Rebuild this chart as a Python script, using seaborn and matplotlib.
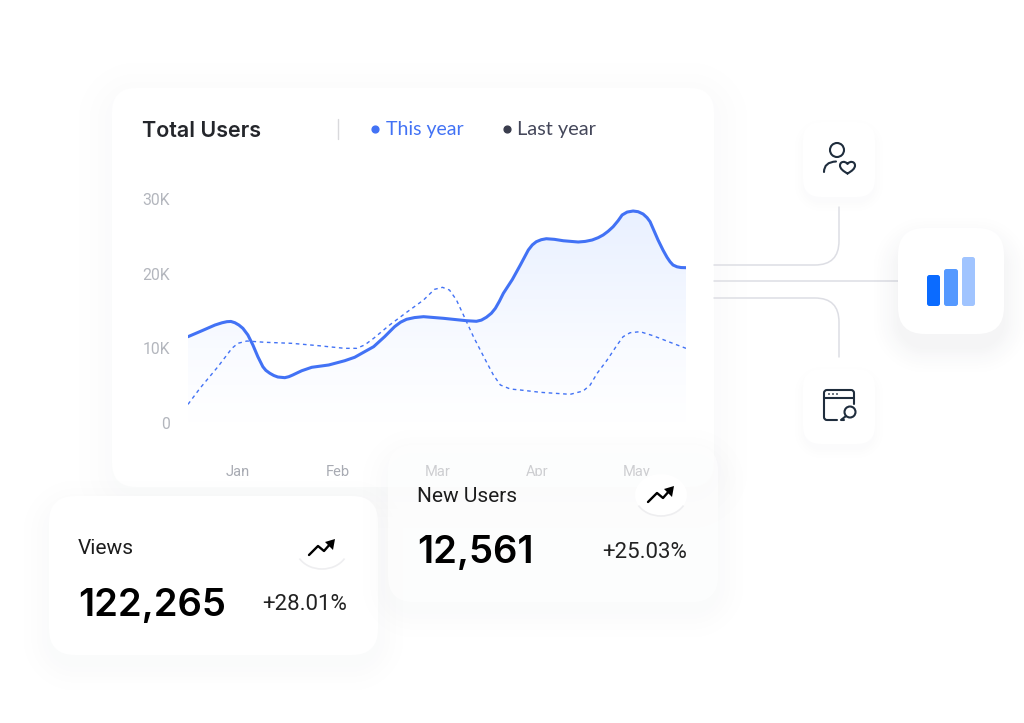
import numpy as np
import pandas as pd
import matplotlib
matplotlib.use("Agg")
import matplotlib.pyplot as plt
import seaborn as sns
from matplotlib.colors import LinearSegmentedColormap
from matplotlib.patches import Arc, FancyBboxPatch, Circle, Ellipse, PathPatch, Polygon
from matplotlib.path import Path
from matplotlib.transforms import Bbox

# values, x in months (Jan = 1), y in thousands of users
this_x = [0.50, 0.64, 0.77, 0.84, 0.89, 0.93, 0.97, 1.01, 1.05, 1.10, 1.15, 1.20, 1.25, 1.28, 1.32, 1.36, 1.40, 1.47,
          1.51, 1.55, 1.60, 1.64, 1.74, 1.91, 2.07, 2.17, 2.27, 2.36, 2.47, 2.57, 2.63, 2.69, 2.77, 2.86, 3.06, 3.29,
          3.39, 3.44, 3.49, 3.54, 3.58, 3.62, 3.66, 3.75, 3.83, 3.91, 3.95, 3.99, 4.04, 4.09, 4.17, 4.26, 4.41, 4.48,
          4.55, 4.61, 4.66, 4.71, 4.76, 4.81, 4.85, 4.90, 4.96, 5.01, 5.06, 5.10, 5.13, 5.21, 5.26, 5.30, 5.33, 5.36,
          5.40, 5.44, 5.49]
this_y = [11.56, 12.36, 13.12, 13.42, 13.57, 13.60, 13.43, 13.12, 12.68, 11.79, 10.45, 8.88, 7.54, 7.05, 6.66, 6.36, 6.16, 6.07,
          6.20, 6.43, 6.75, 7.00, 7.46, 7.77, 8.34, 8.80, 9.55, 10.22, 11.56, 12.90, 13.50, 13.89, 14.12, 14.24, 14.02, 13.70,
          13.62, 13.78, 14.16, 14.70, 15.36, 16.30, 17.37, 19.22, 21.16, 23.17, 23.85, 24.28, 24.55, 24.68, 24.60, 24.41, 24.24, 24.32,
          24.51, 24.82, 25.18, 25.68, 26.29, 27.10, 27.86, 28.25, 28.39, 28.30, 27.99, 27.50, 26.96, 24.51, 23.15, 22.19, 21.60, 21.16,
          20.92, 20.82, 20.80]
last_x = [0.50, 0.62, 0.80, 0.94, 1.00, 1.09, 1.27, 1.54, 1.81, 2.07, 2.19, 2.27, 2.36, 2.52, 2.69, 2.86, 2.97, 3.05,
          3.12, 3.19, 3.26, 3.36, 3.48, 3.56, 3.63, 3.73, 3.83, 4.03, 4.33, 4.46, 4.53, 4.60, 4.70, 4.80, 4.86, 4.93,
          5.03, 5.16, 5.33, 5.49]
last_y = [2.50, 4.65, 7.54, 10.00, 10.67, 10.98, 10.81, 10.67, 10.35, 10.00, 10.00, 10.45, 11.34, 13.12, 14.82, 16.47, 17.90, 18.17,
          17.81, 16.47, 14.46, 11.56, 8.44, 6.43, 5.09, 4.55, 4.42, 4.11, 3.84, 4.29, 5.09, 6.66, 8.44, 10.45, 11.56, 12.09,
          12.23, 11.69, 10.81, 10.00]

months = ["Jan", "Feb", "Mar", "Apr", "May"]
y_ticks = [0, 10, 20, 30]
y_labels = ["0", "10K", "20K", "30K"]

this_year = pd.DataFrame({"month": this_x, "users": this_y})
last_year = pd.DataFrame({"month": last_x, "users": last_y})

BLUE = "#4272f5"
INK = "#1f2d3d"
W, H = 1024, 723

sns.set_theme(style="white")
plt.rcParams["font.family"] = ["Roboto", "DejaVu Sans"]

fig = plt.figure(figsize=(W / 100, H / 100), dpi=100, facecolor="white")
yy, xx = np.mgrid[0:H, 0:W] + 0.5


def px_axes(z):
    a = fig.add_axes([0, 0, 1, 1], zorder=z)
    a.set_xlim(0, W)
    a.set_ylim(H, 0)
    a.set_autoscale_on(False)
    a.axis("off")
    a.patch.set_alpha(0)
    return a


def card(a, x0, y0, x1, y1, r, spread=50, drop=10, strength=0.035, alpha=1.0, z=1):
    # soft shadow from the distance to a rounded box, stacked patches band too much at this alpha
    cx, cy = (x0 + x1) / 2, (y0 + y1) / 2 + drop
    qx = np.abs(xx - cx) - ((x1 - x0) / 2 - r)
    qy = np.abs(yy - cy) - ((y1 - y0) / 2 - r)
    dist = np.hypot(np.maximum(qx, 0), np.maximum(qy, 0)) + np.minimum(np.maximum(qx, qy), 0) - r
    shade = np.clip(1 - dist / spread, 0, 1) ** 2 * strength
    rgba = np.zeros((H, W, 4))
    rgba[..., :3] = (0.19, 0.2, 0.29)
    rgba[..., 3] = shade
    a.imshow(rgba, extent=[0, W, H, 0], aspect="auto", zorder=z, interpolation="nearest")
    a.add_patch(FancyBboxPatch((x0, y0), x1 - x0, y1 - y0, boxstyle=f"round,pad=0,rounding_size={r}",
                               fc="white", ec="none", alpha=alpha, zorder=z))


def curve(a, pts, codes, color=INK, lw=1.5, z=3):
    a.add_patch(PathPatch(Path(pts, codes), fc="none", ec=color, lw=lw, capstyle="round", joinstyle="round", zorder=z))


def trend_icon(a, cx, cy):
    a.add_patch(Ellipse((cx, cy), 52, 42, fc="white", ec="none", zorder=3))
    a.add_patch(Arc((cx, cy), 52, 42, theta1=25, theta2=155, ec="#eeeef0", lw=1.2, zorder=3))
    curve(a, [(cx - 13, cy + 7), (cx - 4, cy - 2), (cx + 2, cy + 3), (cx + 9, cy - 5)],
          [Path.MOVETO, Path.LINETO, Path.LINETO, Path.LINETO], color="black", lw=1.7, z=4)
    a.add_patch(Polygon([(cx + 13, cy - 9), (cx + 3, cy - 6), (cx + 11, cy + 2)], fc="black", ec="none", zorder=4))


bg = px_axes(0)
ax = fig.add_axes([188 / W, 1 - 423 / H, (686 - 188) / W, (423 - 199) / H], zorder=1)
fg = px_axes(2)

# cards behind the chart
card(bg, 112, 88, 714, 487, 24, spread=60, drop=8, strength=0.02)
card(bg, 803, 122, 875, 197, 18, spread=16, drop=6, strength=0.016)
card(bg, 803, 369, 875, 444, 18, spread=16, drop=6, strength=0.016)

# connectors
line_c = "#dddee4"
curve(bg, [(714, 265), (815, 265), (839, 265), (839, 241), (839, 207)],
      [Path.MOVETO, Path.LINETO, Path.CURVE3, Path.CURVE3, Path.LINETO], color=line_c, lw=1.1, z=1)
curve(bg, [(714, 281), (905, 281)], [Path.MOVETO, Path.LINETO], color=line_c, lw=1.1, z=1)
curve(bg, [(714, 298), (815, 298), (839, 298), (839, 322), (839, 357)],
      [Path.MOVETO, Path.LINETO, Path.CURVE3, Path.CURVE3, Path.LINETO], color=line_c, lw=1.1, z=1)
card(bg, 898, 228, 1004, 334, 27, spread=34, drop=14, strength=0.05, z=2)

# bars icon
for (x0, x1, y0), c in zip([(927, 940, 275), (944, 958, 269), (962, 975, 257)], ["#0b6bff", "#5599ff", "#a0c4ff"]):
    bg.add_patch(FancyBboxPatch((x0, y0), x1 - x0, 306 - y0, boxstyle="round,pad=0,rounding_size=2.5",
                                fc=c, ec="none", zorder=3))

# person with heart
bg.add_patch(Circle((837, 150), 7, fc="none", ec=INK, lw=1.5, zorder=3))
curve(bg, [(824, 172), (824, 162), (836, 161.5)], [Path.MOVETO, Path.CURVE3, Path.CURVE3])
curve(bg, [(847.5, 173.5), (843, 171), (840, 168.5), (840, 165.5), (840, 161.5), (845, 160.5), (847.5, 164),
           (850, 160.5), (855, 161.5), (855, 165.5), (855, 168.5), (852, 171), (847.5, 173.5)],
      [Path.MOVETO] + [Path.CURVE4] * 12)

# window with key
curve(bg, [(837, 420), (827, 420), (824, 420), (824, 417), (824, 393), (824, 390), (827, 390), (851, 390), (854, 390),
           (854, 393), (854, 404)],
      [Path.MOVETO, Path.LINETO, Path.CURVE3, Path.CURVE3, Path.LINETO, Path.CURVE3, Path.CURVE3, Path.LINETO,
       Path.CURVE3, Path.CURVE3, Path.LINETO])
curve(bg, [(824, 398), (854, 398)], [Path.MOVETO, Path.LINETO])
for x in (829, 833, 837):
    bg.add_patch(Circle((x, 394), 0.9, fc=INK, ec="none", zorder=3))
bg.add_patch(Circle((850, 412), 5.5, fc="white", ec=INK, lw=1.5, zorder=3))
curve(bg, [(846, 416), (841, 420), (844, 420)], [Path.MOVETO, Path.LINETO, Path.LINETO])

# header
bg.text(142, 131, "Total Users", family=["Inter", "DejaVu Sans"], fontsize=15.5, fontweight=600, color="#24262b",
        va="center", zorder=3)
bg.plot([338, 338], [119, 139], color="#d9d9dc", lw=1)
bg.scatter([375], [129], s=24, color=BLUE, zorder=3)
bg.text(386, 129, "This year", family=["Lato", "DejaVu Sans"], fontsize=14, color=BLUE, va="center", zorder=3)
bg.scatter([507], [129], s=24, color="#3a3d4d", zorder=3)
bg.text(517, 129, "Last year", family=["Lato", "DejaVu Sans"], fontsize=14.4, color="#44475a", va="center", zorder=3)

# chart
ax.patch.set_alpha(0)
fade = LinearSegmentedColormap.from_list("fade", ["#ffffff", "#f9fbff", "#f0f5ff", "#e8f0ff"])
img = ax.imshow(np.linspace(1, 0, 200).reshape(-1, 1), cmap=fade, aspect="auto",
                extent=[this_x[0], this_x[-1], 0, 30], zorder=0)
clip = Polygon(list(zip(this_x, this_y)) + [(this_x[-1], 0), (this_x[0], 0)], transform=ax.transData)
img.set_clip_path(clip)
sns.lineplot(data=last_year, x="month", y="users", ax=ax, color=BLUE, lw=1.0, linestyle=(0, (2.6, 2.6)),
             estimator=None, sort=False, zorder=2)
sns.lineplot(data=this_year, x="month", y="users", ax=ax, color=BLUE, lw=2.2, solid_joinstyle="round",
             estimator=None, sort=False, zorder=3)
ax.set_xlim(this_x[0], this_x[-1])
ax.set_ylim(0, 30)
ax.set_xticks(range(1, 6), months)
ax.set_yticks(y_ticks, y_labels)
ax.set_xlabel("")
ax.set_ylabel("")
ax.tick_params(axis="x", length=0, pad=30, labelsize=10.5, labelcolor="#a8abb3")
ax.tick_params(axis="y", length=0, pad=13, labelsize=11.3, labelcolor="#b3b6bd")
sns.despine(ax=ax, left=True, bottom=True)
# the New Users card cuts the last month labels off
for lab in ax.get_xticklabels()[2:]:
    lab.set_color("#85888f")
    lab.set_clip_on(True)
    lab.set_clip_box(Bbox([[0, H - 476], [W, H]]))

# cards in front
card(fg, 49, 496, 378, 655, 26, spread=44, drop=10, strength=0.022)
card(fg, 388, 445, 718, 602, 26, spread=44, drop=10, strength=0.022, alpha=0.6, z=2)
trend_icon(fg, 322, 548)
trend_icon(fg, 661, 495)

num_font = ["Inter", "DejaVu Sans"]
fg.text(78, 549, "Views", fontsize=15, color="#1c1c1c", va="center", zorder=5)
fg.text(78, 606, "122,265", family=num_font, fontsize=27.5, fontweight=600, color="black", va="center", zorder=5)
fg.text(347, 605, "+28.01%", fontsize=16, color="#222222", va="center", ha="right", zorder=5)
fg.text(417, 496, "New Users", fontsize=15, color="#1c1c1c", va="center", zorder=5)
fg.text(417, 553, "12,561", family=num_font, fontsize=27.5, fontweight=600, color="black", va="center", zorder=5)
fg.text(687, 552, "+25.03%", fontsize=16, color="#222222", va="center", ha="right", zorder=5)

fig.savefig("out.png", dpi=100)
